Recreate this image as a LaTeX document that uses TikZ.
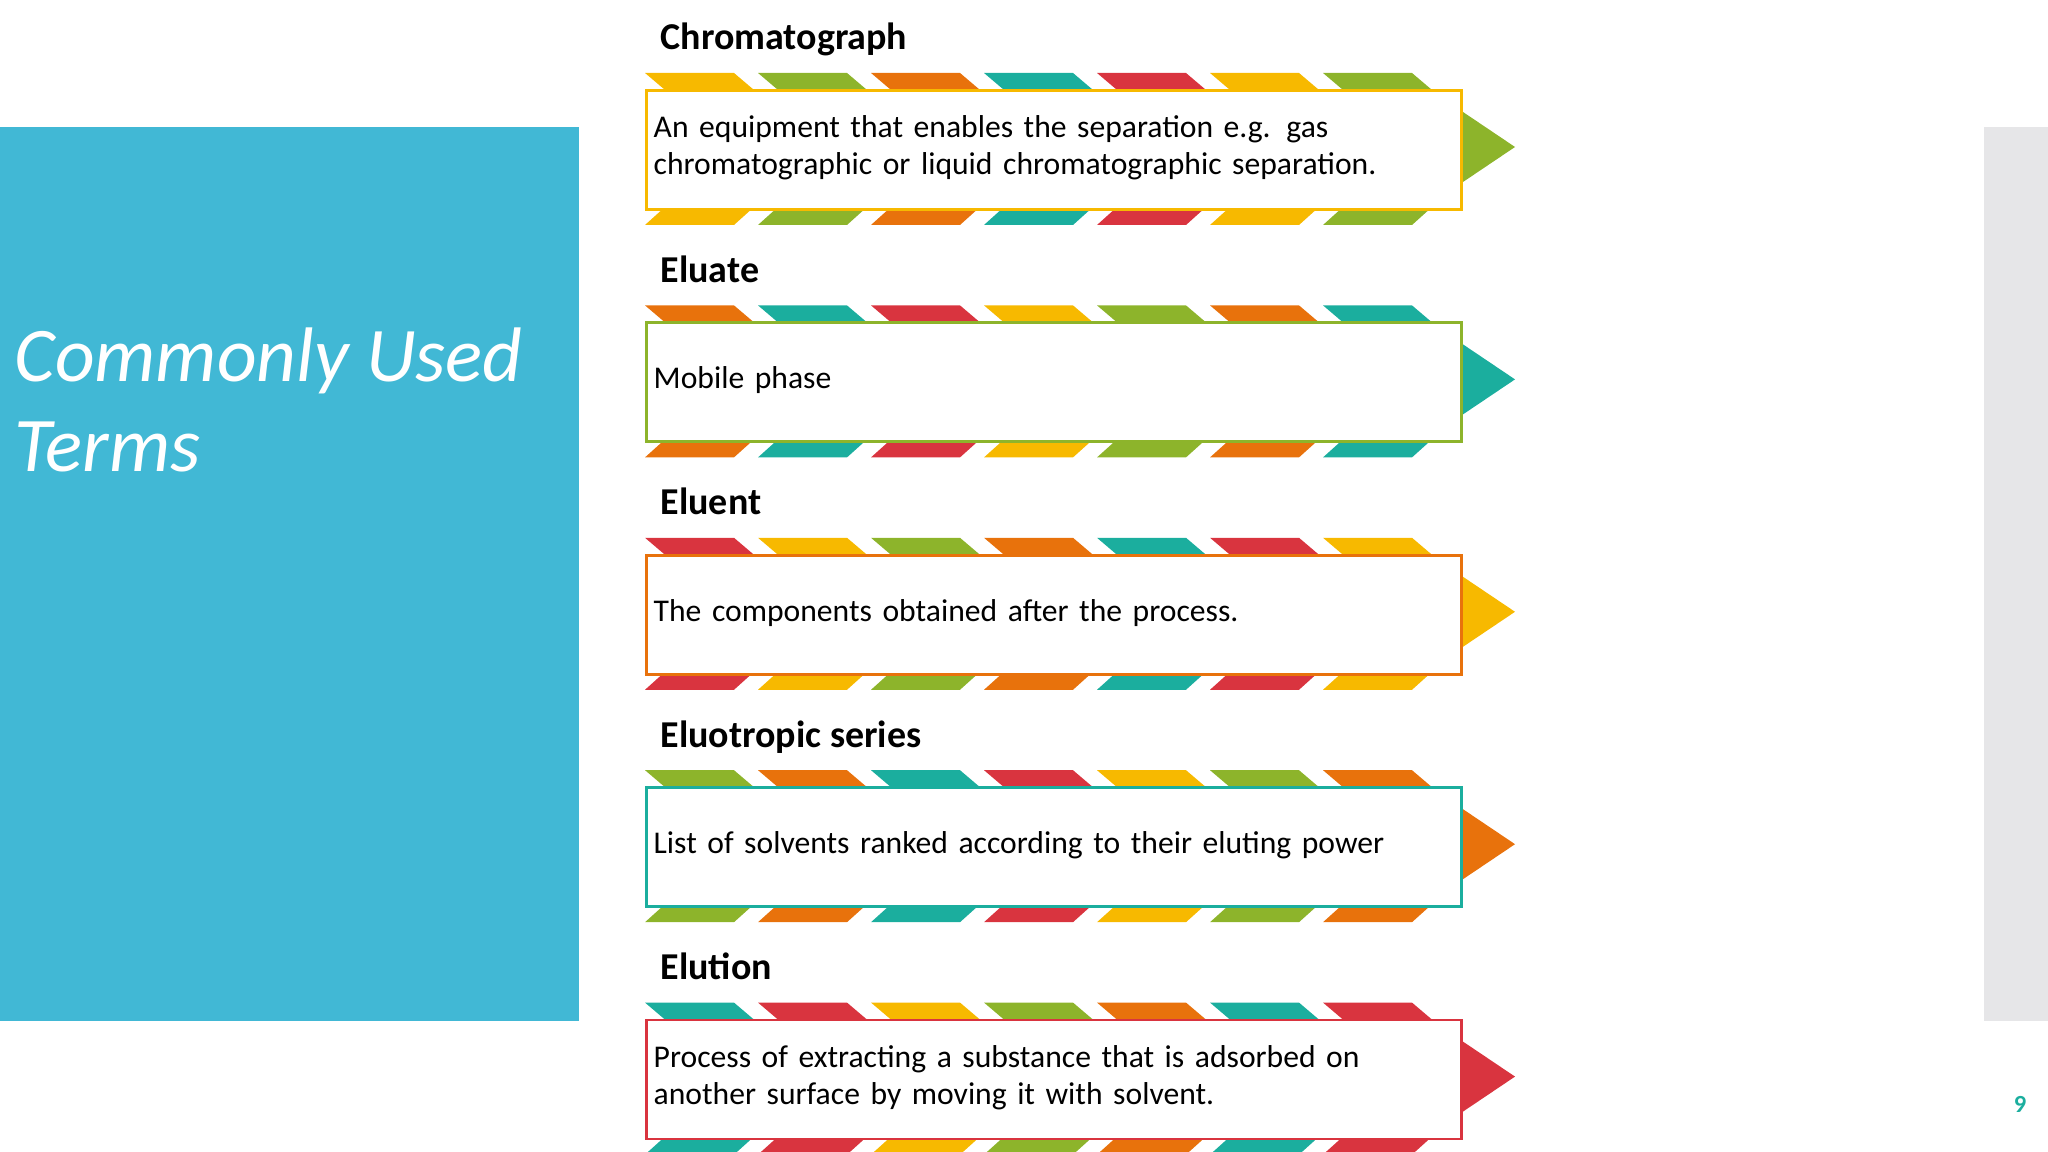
\documentclass[tikz,border=0pt]{standalone}
\usepackage{fontspec}
\setmainfont{Carlito}
\definecolor{cY}{HTML}{F7B900}
\definecolor{cG}{HTML}{8DB42B}
\definecolor{cO}{HTML}{E8720C}
\definecolor{cT}{HTML}{1BAE9E}
\definecolor{cR}{HTML}{D9343F}
\definecolor{panel}{HTML}{41B8D5}
\definecolor{grayp}{HTML}{E6E6E8}
\tikzset{
  termbox/.style={draw=#1, line width=0.8pt, fill=white, minimum width=815*0.1mm, minimum height=119*0.1mm, anchor=north west, text width=795*0.1mm, inner sep=0pt, align=left, font=\fontsize{9}{10.5}\selectfont},
  head/.style={anchor=base west, font=\fontsize{10.8}{12}\selectfont\bfseries, inner sep=0pt},
}
\begin{document}
\begin{tikzpicture}[x=0.1mm,y=-0.1mm]
\useasboundingbox (0,0) rectangle (2048,1152);
\fill[panel] (0,127) rectangle (579,1021);
\fill[grayp] (1984,127) rectangle (2048,1021);
\node[anchor=base west, text=white, font=\fontsize{22}{26}\selectfont\itshape, align=left, inner sep=0pt] (title) at (14,382) {Commonly Used};
\node[anchor=base west, text=white, font=\fontsize{22}{26}\selectfont\itshape, inner sep=0pt] (title2) at (14,472) {Terms};
\node[text=cT, font=\fontsize{7}{8}\selectfont\bfseries] (pg) at (2020,1104) {9};
\def\cols{{"cY","cG","cO","cT","cR"}}
\foreach \k/\hd/\bc/\txt in {
 0/Chromatograph/cY/{An equipment that enables the separation e.g. gas\\chromatographic or liquid chromatographic separation.},
 1/Eluate/cG/{Mobile phase},
 2/Eluent/cO/{The components obtained after the process.},
 3/Eluotropic series/cT/{List of solvents ranked according to their eluting power},
 4/Elution/cR/{Process of extracting a substance that is adsorbed on\\another surface by moving it with solvent.}}{
  \pgfmathsetmacro{\yo}{\k*232.4}
  \node[head] (h\k) at (660,50+\yo) {\hd};
  \foreach \i in {0,...,6}{
    \pgfmathtruncatemacro{\ci}{mod(2*\k+\i,5)}
    \pgfmathsetmacro{\cn}{\cols[\ci]}
    \pgfmathsetmacro{\xs}{645+\i*113}
    \fill[\cn] (\xs,73+\yo) -- (\xs+89,73+\yo) -- (\xs+109,90+\yo) -- (\xs+20,90+\yo) -- cycle;
    \fill[\cn] (\xs+20,207+\yo) -- (\xs+109,207+\yo) -- (\xs+89,225+\yo) -- (\xs,225+\yo) -- cycle;
  }
  \pgfmathtruncatemacro{\ai}{mod(2*\k+1,5)}
  \pgfmathsetmacro{\an}{\cols[\ai]}
  \fill[\an] (1460,110+\yo) -- (1515,147+\yo) -- (1460,184+\yo) -- cycle;
  \node[termbox=\bc] (b\k) at (645,89+\yo) {};
  \node[anchor=west, text width=795*0.1mm, align=left, inner sep=0pt, font=\fontsize{9}{10.6}\selectfont] (t\k) at (653,148+\yo) {\txt};
}
\end{tikzpicture}
\end{document}
